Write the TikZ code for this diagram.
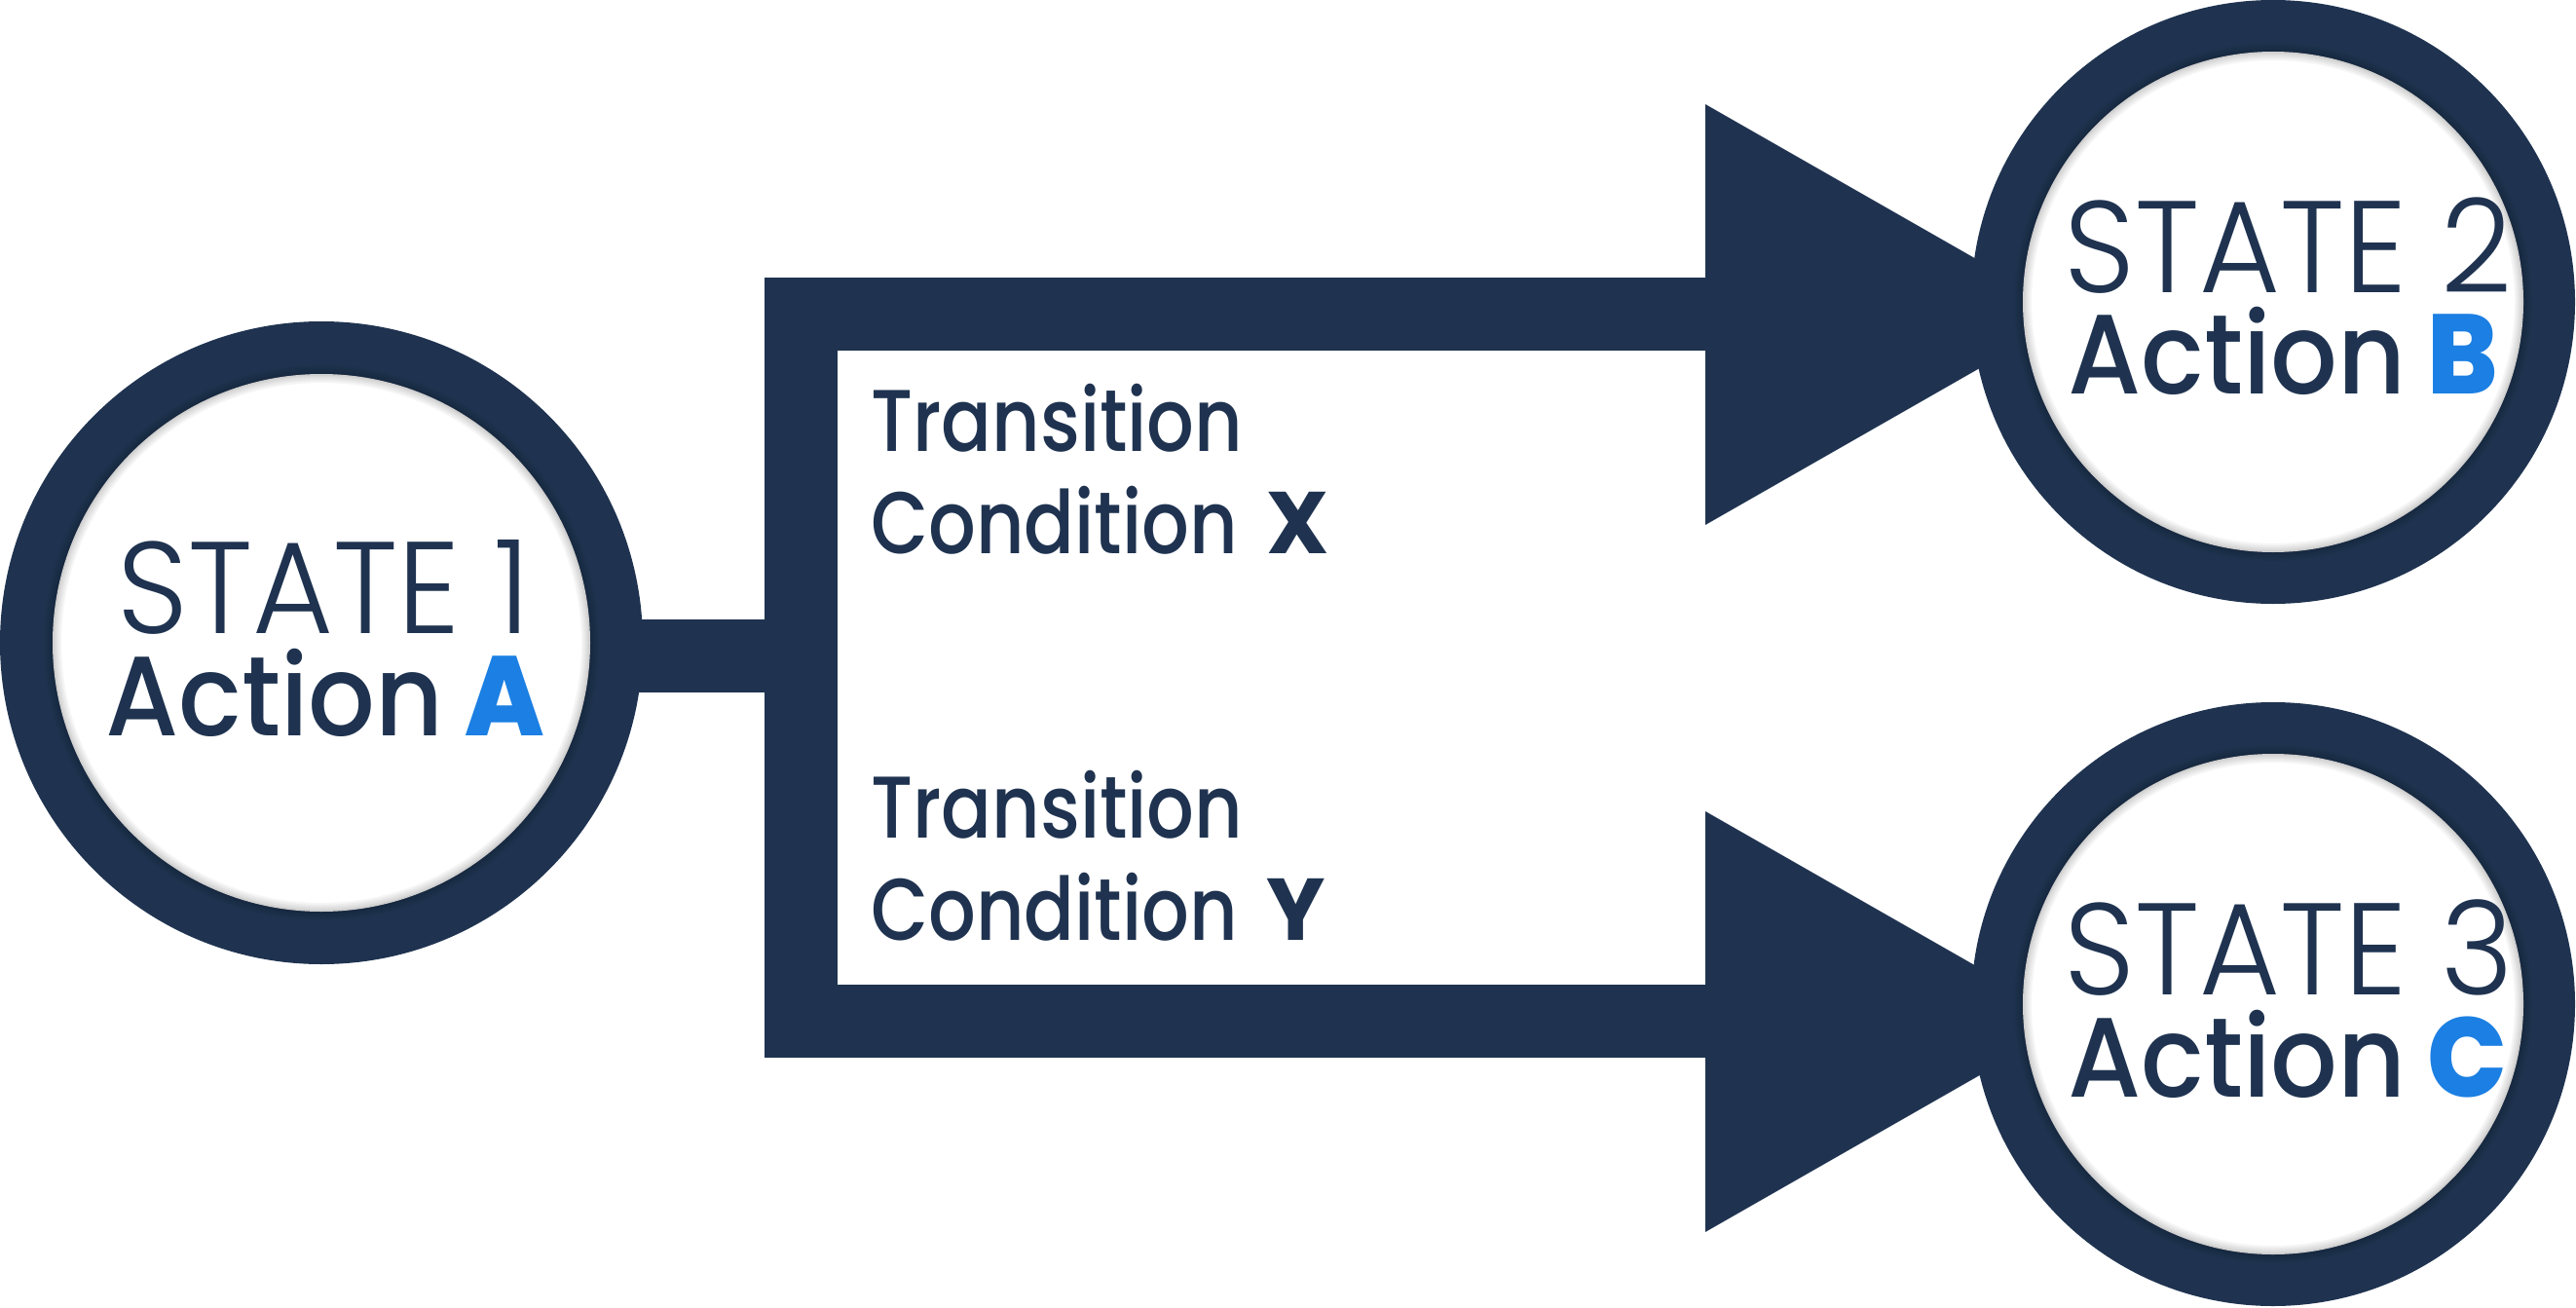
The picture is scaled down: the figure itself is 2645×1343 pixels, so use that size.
\documentclass[tikz,border=0pt]{standalone}
\usepackage{fontspec}
\setmainfont{Poppins}
\newfontfamily\lightf{Poppins Light}[FakeStretch=0.95]
\newfontfamily\medf{Poppins Medium}[FakeStretch=0.93]
\newfontfamily\condf{Poppins Medium}[FakeStretch=0.85]
\newfontfamily\boldf{Poppins ExtraBold}[FakeStretch=0.93]
\newfontfamily\condboldf{Poppins Bold}
\definecolor{navy}{RGB}{31,51,80}
\definecolor{accent}{RGB}{27,127,227}
\tikzset{
  ring/.style={circle, fill=navy, inner sep=0pt},
  hole/.style={circle, fill=white, inner sep=0pt},
  band/.style={fill=navy},
  statetxt/.style={anchor=base west, inner sep=0pt, text=navy, font=\lightf\fontsize{134}{140}\selectfont},
  actiontxt/.style={anchor=base west, inner sep=0pt, text=navy, font=\medf\fontsize{116}{120}\selectfont},
  condtxt/.style={anchor=base west, inner sep=0pt, text=navy, font=\condf\fontsize{90}{95}\selectfont},
}
\newcommand{\accentletter}[1]{\hspace{-6pt}{\boldf\color{accent}#1}}
\newcommand{\condletter}[1]{\hspace{30pt}{\condboldf #1}}
\begin{document}
\begin{tikzpicture}[x=1pt,y=-1pt]
\useasboundingbox (0,0) rectangle (2645,1343);
% connector geometry
\coordinate (vbTL) at (785,285);
\coordinate (vbBR) at (860,1086);
\coordinate (stubL) at (600,636);
\coordinate (stubR) at (790,711);
\coordinate (topL) at (785,285);
\coordinate (topR) at (1760,360);
\coordinate (botL) at (785,1011);
\coordinate (botR) at (1760,1086);
\coordinate (aT1) at (1751,107);
\coordinate (aT2) at (1751,539);
\coordinate (tipT) at (2129,323);
\coordinate (aB1) at (1751,833);
\coordinate (aB2) at (1751,1265);
\coordinate (tipB) at (2129,1049);
\fill[band] (vbTL) rectangle (vbBR);
\fill[band] (stubL) rectangle (stubR);
\fill[band] (topL) rectangle (topR);
\fill[band] (botL) rectangle (botR);
\fill[band] (aT1) -- (tipT) -- (aT2) -- cycle;
\fill[band] (aB1) -- (tipB) -- (aB2) -- cycle;
% states
\node[ring, minimum size=660pt] (s1) at (330,660) {};
\node[hole, minimum size=552pt] (s1in) at (330,660) {};
\node[ring, minimum size=620pt] (s2) at (2334,310) {};
\node[hole, minimum size=514pt] (s2in) at (2334,310) {};
\node[ring, minimum size=620pt] (s3) at (2334,1031) {};
\node[hole, minimum size=514pt] (s3in) at (2334,1031) {};
\foreach \c/\r in {s1in/276, s2in/257, s3in/257}{
  \foreach \w in {3,6,10,14,18}{
    \draw[black, opacity=0.04, line width=\w pt] (\c.center) circle (\r);
  }
}
% texts
\node[statetxt] (t1) at (120,650) {STATE 1};
\node[actiontxt] (a1) at (108,755) {Action \accentletter{A}};
\node[statetxt] (t2) at (2119,300) {STATE 2};
\node[actiontxt] (a2) at (2123,404) {Action \accentletter{B}};
\node[statetxt] (t3) at (2119,1021) {STATE 3};
\node[actiontxt] (a3) at (2123,1126) {Action \accentletter{C}};
\node[condtxt] (c1a) at (894,463) {Transition};
\node[condtxt] (c1b) at (894,568) {Condition\condletter{X}};
\node[condtxt] (c2a) at (894,860) {Transition};
\node[condtxt] (c2b) at (894,965) {Condition\condletter{Y}};
\end{tikzpicture}
\end{document}
